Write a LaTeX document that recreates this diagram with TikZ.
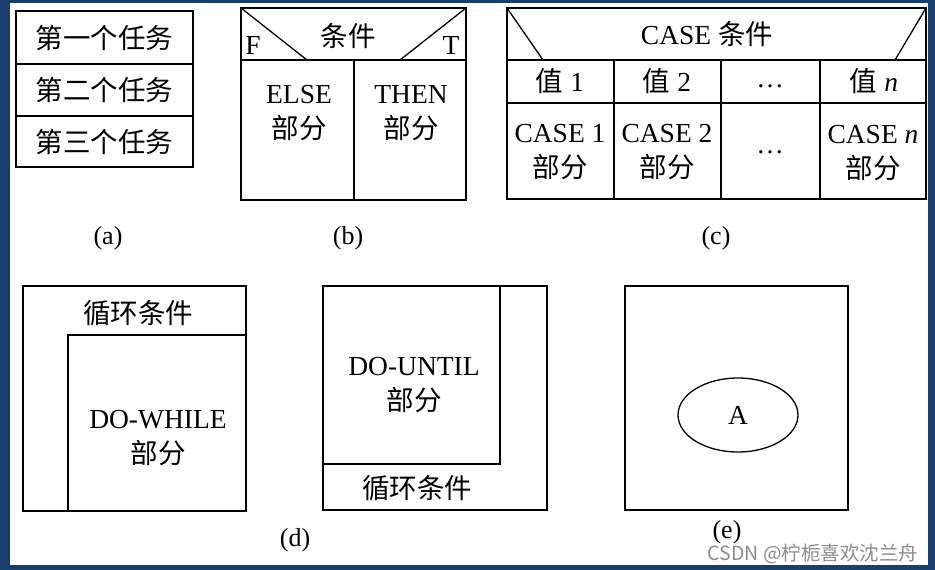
\documentclass[tikz,border=0pt]{standalone}
\usepackage{fontspec}
\setmainfont{Liberation Serif}
\newfontfamily\zhfont{Noto Sans CJK SC}
\newfontfamily\wmfont{Noto Sans CJK SC}
\newcommand{\zh}[1]{{\zhfont #1}}
\usetikzlibrary{shapes.geometric}
\definecolor{frameblue}{RGB}{24,62,112}
\definecolor{markgray}{RGB}{140,140,140}
\begin{document}
\begin{tikzpicture}[x=1pt,y=-1pt,line width=1.3pt,line join=miter,
	lbl/.style={font=\fontsize{27.5}{35}\selectfont,inner sep=0pt,align=center},
	sublabel/.style={font=\fontsize{26}{28}\selectfont,inner sep=0pt}]
	\fill[frameblue] (0,0) rectangle (935,570);
	\fill[white] (10,3) rectangle (928,565);
	\useasboundingbox (0,0) rectangle (935,570);
	% (a) sequence
	\draw (16,11) rectangle (193,167) (16,64)--(193,64) (16,116)--(193,116);
	\foreach \t/\y [count=\i] in {一/37.5,二/90,三/141.5}{
		\node[lbl] (seq\i) at (104.5,\y) {\zh{第\t 个任务}};
	}
	\node[sublabel] (capa) at (108,238) {(a)};
	% (b) if-then-else
	\draw (241,8) rectangle (466,200) (241,60)--(466,60) (354,60)--(354,200);
	\draw (241,8)--(307,60) (466,8)--(400,60);
	\node[lbl] (ifcond) at (348,36) {\zh{条件}};
	\node[lbl] (ifF) at (253,45) {F};
	\node[lbl] (ifT) at (451,45) {T};
	\node[lbl] (elsepart) at (299,113) {ELSE\\\zh{部分}};
	\node[lbl] (thenpart) at (411,113) {THEN\\\zh{部分}};
	\node[sublabel] (capb) at (348,238) {(b)};
	% (c) case
	\draw (507,8) rectangle (926,199) (507,60)--(926,60) (507,103)--(926,103);
	\foreach \x in {614,721,820}{
		\draw (\x,60)--(\x,199);
	}
	\draw (507,8)--(543,60) (926,8)--(895,60);
	\node[lbl] (casecond) at (707,34) {CASE \zh{条件}};
	\node[lbl] (val1) at (560,81) {\zh{值} 1};
	\node[lbl] (val2) at (667,81) {\zh{值} 2};
	\node[lbl] (valdots) at (770,86) {\ldots};
	\node[lbl] (valn) at (874,81) {\zh{值} \textit{n}};
	\node[lbl] (case1) at (560,152) {CASE 1\\\zh{部分}};
	\node[lbl] (case2) at (667,152) {CASE 2\\\zh{部分}};
	\node[lbl] (casedots) at (770,152) {\ldots};
	\node[lbl] (casen) at (873,153) {CASE \textit{n}\\\zh{部分}};
	\node[sublabel] (capc) at (716,238) {(c)};
	% (d) do-while
	\draw (23,286) rectangle (246,511);
	\draw (68,511)--(68,335)--(246,335);
	\node[lbl] (whcond) at (138,313) {\zh{循环条件}};
	\node[lbl] (whpart) at (158,438) {DO-WHILE\\\zh{部分}};
	\node[sublabel] (capd) at (295,540) {(d)};
	% do-until
	\draw (323,286) rectangle (547,510);
	\draw (500,286)--(500,464)--(323,464);
	\node[lbl] (unpart) at (414,385) {DO-UNTIL\\\zh{部分}};
	\node[lbl] (uncond) at (417,488) {\zh{循环条件}};
	% (e) block
	\draw (625,286) rectangle (848,510);
	\node[lbl,draw,ellipse,minimum width=120,minimum height=74] (blockA) at (738,415) {A};
	\node[sublabel] (cape) at (727,532) {(e)};
	\node[font=\wmfont\fontsize{19.5}{24}\selectfont,text=markgray,inner sep=0pt] (mark) at (813,554) {CSDN @柠栀喜欢沈兰舟};
\end{tikzpicture}
\end{document}
